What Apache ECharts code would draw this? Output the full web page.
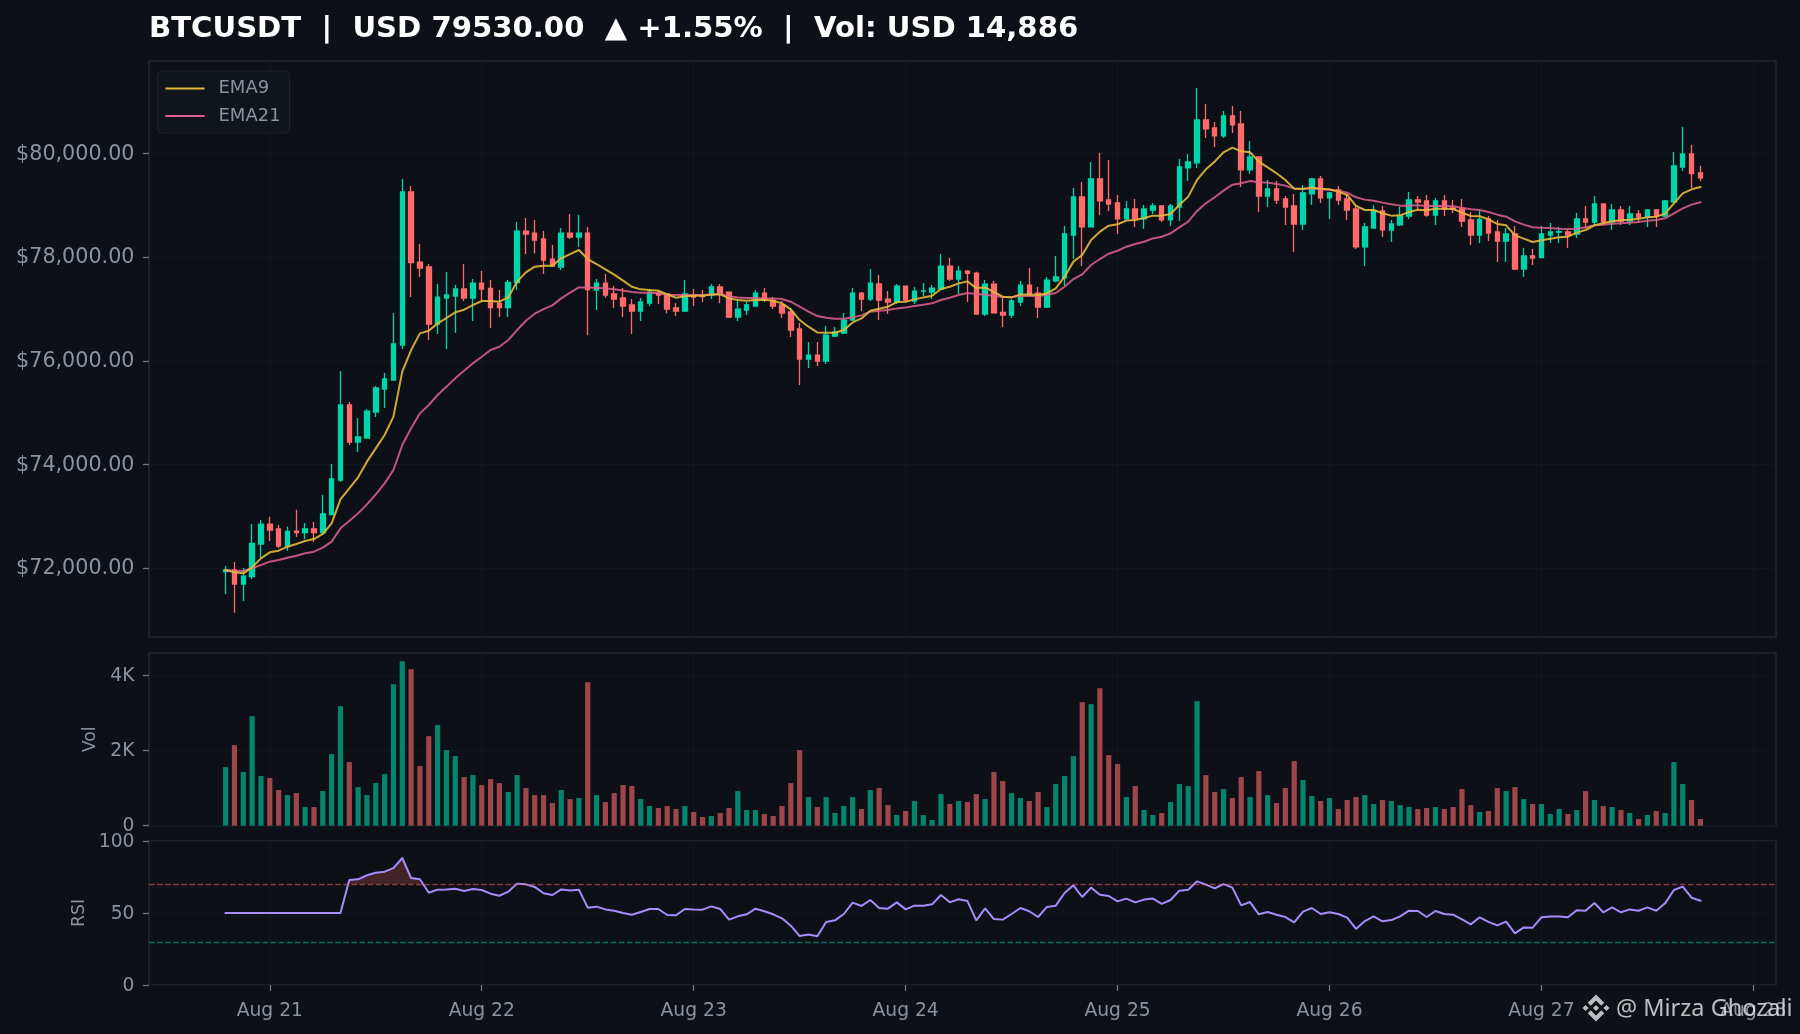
<!DOCTYPE html>
<html><head><meta charset="utf-8">
<style>html,body{margin:0;padding:0;background:#0d1117}#c{width:1800px;height:1034px}</style>
<script src="https://cdn.jsdelivr.net/npm/echarts@6/dist/echarts.min.js"></script>
</head><body><div id="c"></div>
<script>
const titleText = 'BTCUSDT  |  USD 79530.00  ▲ +1.55%  |  Vol: USD 14,886';
const dayLabels = ['Aug 21','Aug 22','Aug 23','Aug 24','Aug 25','Aug 26','Aug 27','Aug 28'];
const dayTicks = [0,24,48,72,96,120,144,168];
const priceTicks = [72000,74000,76000,78000,80000];
const volTicks = [0,2000,4000];
const rsiTicks = [0,50,100];
const firstHour = -5; // first candle: Aug 20 19:00, hours counted from Aug 21 00:00
const opens = [
71935,71967,71697,71838,72469,72854,72758,72430,72719,72687,
72758,72687,73034,73703,75150,74436,74513,75015,75459,75632,
76307,79259,77908,77812,76712,77214,77253,77388,77214,77503,
77400,77111,77027,77509,78506,78467,78352,77966,77812,78467,
78390,78467,77368,77503,77291,77214,77079,76963,77117,77310,
77291,77021,76963,77271,77271,77271,77426,77329,76847,76982,
77059,77310,77175,77079,76944,76616,76037,76114,75998,76481,
76538,76789,77310,77194,77484,77194,77136,77445,77156,77345,
77329,77387,77831,77580,77734,77696,76905,77483,76937,76885,
77136,77464,77310,77040,77543,77601,78430,79163,78585,79510,
79105,79047,78739,78932,78739,78912,78989,78720,78970,79723,
79819,80648,80494,80340,80726,80571,79684,79935,79182,79317,
79125,78990,78642,79221,79510,79144,79298,79125,78932,78199,
78565,78893,78526,78623,78796,79105,79085,78815,79085,78950,
78931,78719,78430,78738,78488,78314,78449,77774,78025,77993,
78430,78485,78488,78449,78738,78680,79028,78680,78912,78700,
78835,78777,78912,78796,79066,79741,79992,79626];
const closes = [
71967,71697,71851,72481,72854,72739,72430,72713,72687,72758,
72687,73048,73723,75150,74436,74533,75034,75478,75652,76327,
79259,77896,77793,76712,77233,77272,77388,77214,77503,77388,
77027,77027,77516,78506,78448,78332,77947,77831,78467,78390,
78467,77374,77503,77271,77194,77059,76963,77137,77329,77271,
77001,76963,77291,77233,77240,77426,77310,76847,77001,77079,
77310,77175,77059,76924,76596,76037,76114,75998,76500,76558,
76789,77310,77194,77503,77175,77136,77445,77175,77348,77352,
77406,77831,77580,77734,77690,76905,77483,76930,76885,77156,
77464,77271,77040,77561,77620,78449,79163,78585,79510,79086,
79028,78739,78932,78739,78932,78989,78720,78989,79742,79838,
80648,80475,80340,80726,80552,79684,79935,79182,79317,79105,
78970,78642,79240,79510,79144,79240,79105,78912,78199,78585,
78893,78527,78642,78796,79105,79066,78815,79085,78931,78931,
78700,78430,78732,78468,78314,78449,77774,78025,77986,78449,
78488,78495,78430,78738,78680,79028,78680,78912,78700,78835,
78777,78912,78796,79085,79761,79992,79613,79530];
const highs = [
72044,72121,72006,72854,72932,72996,72835,72803,73131,72874,
72893,73414,74012,75806,75208,74899,75073,75516,75767,76925,
79509,79374,78256,77870,77484,77715,77465,77870,77580,77735,
77561,77368,77561,78680,78757,78718,78506,78236,78564,78834,
78815,78583,77580,77677,77445,77407,77194,77214,77387,77368,
77310,77117,77561,77387,77368,77484,77484,77329,77156,77137,
77368,77407,77233,77156,77021,76731,76365,76365,76674,76654,
76924,77407,77329,77773,77657,77348,77483,77445,77425,77503,
77464,78062,77985,77831,77753,77721,77561,77541,77233,77194,
77541,77792,77425,77618,78025,78604,79337,79453,79838,80012,
79877,79202,79086,79125,79009,79047,79009,79028,79896,79993,
81266,80957,80610,80822,80919,80822,80243,79954,79491,79472,
79182,79221,79395,79530,79568,79260,79376,79221,79009,78662,
79009,78990,78719,78976,79259,79182,79201,79143,79201,79105,
79124,78873,78893,78796,78719,78565,78603,78179,78160,78603,
78661,78584,78526,78854,78989,79182,79028,79028,78989,78989,
78912,78931,78931,79105,80031,80513,80166,79767];
const lows = [
71504,71144,71369,71793,72192,72527,72385,72340,72604,72559,
72507,72642,73028,73665,74378,74243,74500,74918,75092,75613,
76230,77233,77619,76404,76520,76230,76539,77156,76770,77156,
76635,76847,76847,77368,78062,78075,77677,77818,77754,78352,
78197,76500,76982,77220,77021,76847,76519,76770,77059,77098,
76918,76866,76944,77059,77137,77194,77117,76828,76770,76886,
77047,77137,77001,76828,76461,75534,75863,75902,75940,76461,
76520,76770,76963,77156,76789,76905,77098,77136,77098,77252,
77194,77368,77541,77291,77136,76905,76866,76918,76654,76828,
77059,77271,76828,77020,77517,77446,77967,77832,78585,78816,
78893,78449,78719,78585,78546,78835,78681,78604,78700,79472,
79723,80301,80128,80301,80398,79356,79607,78874,78970,79028,
78623,78102,78527,79009,79047,78739,79009,78720,78160,77832,
78565,78392,78295,78603,78738,78912,78783,78623,78796,78854,
78584,78237,78275,78314,77909,77909,77755,77620,77851,77993,
78275,78275,78179,78372,78565,78623,78680,78526,78623,78623,
78661,78584,78584,78777,79066,79664,79336,79471];
const ema9 = [
71967,71922,71903,72019,72192,72308,72340,72417,72469,72527,
72565,72662,72867,73330,73543,73755,74057,74314,74571,74925,
75793,76211,76532,76584,76725,76828,76938,76989,77079,77156,
77156,77143,77226,77529,77709,77818,77837,77837,77979,78062,
78140,77966,77870,77767,77664,77548,77432,77381,77368,77355,
77284,77220,77246,77259,77259,77284,77284,77207,77175,77162,
77175,77182,77162,77111,76995,76789,76661,76551,76545,76545,
76596,76744,76821,76969,77008,77046,77136,77143,77188,77226,
77258,77387,77432,77496,77535,77406,77419,77329,77239,77226,
77284,77284,77271,77303,77401,77626,77916,78044,78334,78494,
78610,78636,78707,78720,78758,78803,78803,78835,79009,79170,
79491,79697,79845,80025,80115,80044,80025,79845,79735,79620,
79491,79324,79324,79343,79324,79311,79266,79202,78990,78912,
78912,78848,78803,78809,78873,78918,78906,78938,78938,78931,
78861,78796,78790,78732,78642,78616,78423,78359,78295,78327,
78359,78385,78398,78475,78526,78616,78655,78693,78713,78726,
78745,78771,78783,78841,79041,79233,79311,79356];
const ema21 = [
71974,71948,71948,72000,72064,72128,72160,72205,72244,72289,
72321,72398,72514,72771,72912,73060,73234,73427,73639,73896,
74378,74700,74989,75150,75343,75504,75664,75812,75954,76082,
76211,76275,76403,76596,76776,76911,77001,77072,77207,77317,
77419,77419,77413,77400,77381,77361,77329,77317,77317,77304,
77278,77271,77271,77271,77271,77284,77297,77246,77226,77214,
77214,77207,77207,77194,77143,77047,76950,76866,76834,76815,
76815,76841,76879,76950,76969,76982,77014,77033,77059,77085,
77111,77175,77220,77271,77310,77291,77278,77258,77233,77233,
77252,77252,77252,77278,77310,77432,77580,77670,77850,77966,
78069,78126,78204,78255,78300,78364,78396,78461,78577,78687,
78893,79041,79157,79285,79401,79427,79472,79446,79440,79414,
79382,79324,79318,79330,79311,79298,79285,79247,79157,79112,
79092,79054,79022,78996,78996,79002,78989,78989,78989,78983,
78957,78925,78912,78873,78822,78783,78693,78629,78578,78571,
78565,78552,78545,78552,78578,78616,78629,78648,78655,78668,
78680,78706,78719,78751,78848,78944,79015,79060];
const volumes = [
1554,2137,1422,2905,1316,1263,945,812,865,494,
494,918,1898,3170,1687,1024,812,1130,1369,3753,
4362,4150,1581,2375,2667,2004,1845,1289,1342,1077,
1236,1130,892,1342,998,812,812,600,945,706,
733,3806,812,627,865,1077,1051,706,521,468,
521,441,521,362,230,256,336,468,918,415,
415,309,256,521,1130,2004,759,494,759,336,
521,759,441,945,998,547,283,389,653,283,
150,839,574,653,627,839,706,1422,1183,865,
733,653,892,494,1104,1316,1845,3276,3223,3647,
1872,1634,759,1051,415,283,336,627,1104,1051,
3302,1342,892,971,733,1289,759,1448,812,600,
998,1713,1210,786,653,733,441,680,759,812,
574,680,653,547,494,441,468,494,441,494,
971,547,362,389,998,918,1024,706,574,574,
309,441,309,415,918,680,521,494,415,336,
177,283,389,336,1687,1104,680,177];
const rsi = [
50,50,50,50,50,50,50,50,50,50,
50,50,50,50,72.9,73.4,76.2,78.0,78.7,81.2,
88.2,74.3,73.4,64.1,66.2,66.4,66.9,65.3,66.7,66.0,
63.4,62.0,64.8,70.4,69.9,68.1,63.7,62.5,66.4,65.7,
66.2,53.7,54.4,52.5,51.6,50.0,48.8,50.7,52.8,52.8,
48.6,48.4,52.8,52.5,52.3,54.6,52.8,45.4,47.7,49.1,
53.0,51.2,49.1,46.3,41.2,34.0,35.0,33.8,43.8,44.9,
49.3,57.2,54.9,59.0,53.5,53.0,57.4,52.5,55.1,55.1,
56.0,62.5,57.4,59.5,58.3,44.9,53.2,45.8,45.4,49.3,
53.5,51.2,47.2,54.2,55.1,63.9,69.2,61.1,67.6,62.7,
61.8,58.1,60.0,57.4,59.3,60.0,56.3,59.0,65.5,66.2,
72.0,69.7,67.1,70.1,67.6,55.3,57.6,49.1,50.7,48.8,
47.2,43.5,50.9,53.5,49.3,50.5,49.3,46.8,38.9,44.4,
47.7,44.2,45.1,47.7,51.6,51.4,47.2,51.4,49.3,48.8,
45.6,42.1,47.0,43.8,41.4,44.0,35.9,40.0,39.8,47.0,
47.5,47.5,47.0,51.9,51.6,56.9,50.5,53.9,50.5,52.5,
51.6,53.9,51.6,56.7,66.0,68.3,60.6,58.6];

const UP='#00d4aa', DOWN='#ff6b6b', TXT='#8b949e', SPINE='#21262d', GRID='#12171e', BG='#0d1117';
const hours = opens.map((_, i) => firstHour + i);
const pair = arr => arr.map((v, i) => [hours[i], v]);
const XMIN=-13.68, XMAX=170.56;
const fontFam='"DejaVu Sans"';

function xAxis(gridIndex, showLabels){
  return {type:'value',gridIndex,min:XMIN,max:XMAX,
    axisLine:{show:false,onZero:false},
    axisTick:{show:showLabels,customValues:dayTicks,length:6,lineStyle:{color:'#6e7681',width:1.3}},
    axisLabel:{show:showLabels,customValues:dayTicks,color:TXT,fontFamily:fontFam,fontSize:18.7,margin:17,hideOverlap:false,
      formatter:v=>dayLabels[dayTicks.indexOf(v)]||''},
    splitLine:{show:true,lineStyle:{color:GRID,width:1}}};
}
function yAxis(gridIndex,min,max,ticks,fmt,name,nameGap){
  return {type:'value',gridIndex,min,max,name,nameLocation:'middle',nameGap:nameGap||58,nameRotate:90,
    nameTextStyle:{color:TXT,fontFamily:fontFam,fontSize:17.3},
    axisLine:{show:false,onZero:false},
    axisTick:{show:true,customValues:ticks,length:6,lineStyle:{color:'#6e7681',width:1.3}},
    axisLabel:{customValues:ticks,color:TXT,fontFamily:fontFam,fontSize:gridIndex===0?20.7:18.7,margin:14.5,verticalAlign:'top',lineHeight:1.6,formatter:fmt,showMinLabel:true,showMaxLabel:true},
    splitLine:{show:true,lineStyle:{color:GRID,width:1}}};
}
const money=v=>'$'+v.toLocaleString('en-US',{minimumFractionDigits:2,maximumFractionDigits:2});
const kfmt=v=>v===0?'0':(v/1000)+'K';
const gridCommon={left:149,width:1627,show:true,backgroundColor:BG,borderColor:SPINE,borderWidth:1.6};
const logoColor={fill:'#dcdcdc',opacity:.85};
const logoParts=[
 [[9.782,13.447],[16,7.229],[22.22,13.449],[25.837,9.832],[16,0],[6.165,9.832]],
 [[9.782,18.553],[16,24.771],[22.22,18.551],[25.837,22.166],[16,32],[6.165,22.165]],
 [[0,16],[3.617,12.383],[7.235,16],[3.617,19.617]],
 [[24.765,16],[28.383,12.383],[32,16],[28.383,19.617]],
 [[19.668,16],[16,12.332],[12.335,16],[16,19.67]]];

const option={
  animation:false,
  backgroundColor:BG,
  title:{text:titleText,left:149,top:15,padding:0,textStyle:{color:'#ffffff',fontFamily:fontFam,fontWeight:'bold',fontSize:29.15}},
  legend:{data:['EMA9','EMA21'],orient:'vertical',left:157.5,top:71,padding:[8.4,9,8,8],icon:'rect',itemWidth:39,itemHeight:2,itemGap:9.6,
    backgroundColor:'#10151b',borderColor:'#1c2229',borderWidth:1.2,borderRadius:5,
    textStyle:{color:TXT,fontFamily:fontFam,fontSize:18,padding:[0,0,0,9]}},
  grid:[
    Object.assign({top:61,height:576},gridCommon),
    Object.assign({top:653,height:172.7},gridCommon),
    Object.assign({top:841,height:144},gridCommon)],
  xAxis:[xAxis(0,false),xAxis(1,false),xAxis(2,true)],
  yAxis:[yAxis(0,70675,81786,priceTicks,money),yAxis(1,0,4580,volTicks,kfmt,'Vol',47.7),yAxis(2,0,100,rsiTicks,v=>String(v),'RSI',53.4)],
  series:[
    {type:'candlestick',xAxisIndex:0,yAxisIndex:0,name:'Price',barWidth:5,
     data:opens.map((o,i)=>[hours[i],o,closes[i],lows[i],highs[i]]),encode:{x:0,y:[1,2,3,4]},
     itemStyle:{color:UP,color0:DOWN,borderColor:UP,borderColor0:DOWN,borderWidth:1.3}},
    {type:'line',name:'EMA9',xAxisIndex:0,yAxisIndex:0,data:pair(ema9),symbol:'none',z:5,
     lineStyle:{color:'#e3b93a',width:2,opacity:.9,cap:'square'},itemStyle:{color:'#e3b93a'}},
    {type:'line',name:'EMA21',xAxisIndex:0,yAxisIndex:0,data:pair(ema21),symbol:'none',z:4,
     lineStyle:{color:'#e0608e',width:2,opacity:.85,cap:'square'},itemStyle:{color:'#e0608e'}},
    {type:'bar',name:'Volume',xAxisIndex:1,yAxisIndex:1,barWidth:5.2,
     data:volumes.map((v,i)=>({value:[hours[i],v],itemStyle:{color:closes[i]>=opens[i]?UP:DOWN,opacity:.6}}))},
    {type:'line',name:'RSI fill',xAxisIndex:2,yAxisIndex:2,symbol:'none',connectNulls:false,z:2,
     data:rsi.map((v,i)=>[hours[i],(i>=14&&i<=22)?v:null]),lineStyle:{width:0},
     areaStyle:{origin:70,color:DOWN,opacity:.22}},
    {type:'line',name:'RSI',xAxisIndex:2,yAxisIndex:2,data:pair(rsi),symbol:'none',z:4,
     lineStyle:{color:'#a78bfa',width:2,cap:'square'},
     markLine:{silent:true,symbol:'none',label:{show:false},animation:false,data:[
       {yAxis:70,lineStyle:{color:DOWN,opacity:.5,width:1.3,type:[5.5,2.6]}},
       {yAxis:30,lineStyle:{color:UP,opacity:.5,width:1.3,type:[5.5,2.6]}}]}}
  ],
  graphic:[
    {type:'group',z:100,left:1582.5,top:994.5,scaleX:27/32,scaleY:27/32,
     children:logoParts.map(points=>({type:'polygon',shape:{points},style:logoColor}))},
    {type:'text',z:100,left:1616,top:997,style:{text:'@ Mirza Ghozali',fill:'#dcdcdc',opacity:.85,font:'23.5px "Noto Sans"'}}
  ]
};
const chart=echarts.init(document.getElementById('c'),null,{renderer:'canvas',width:1800,height:1034});
chart.setOption(option);
</script></body></html>
